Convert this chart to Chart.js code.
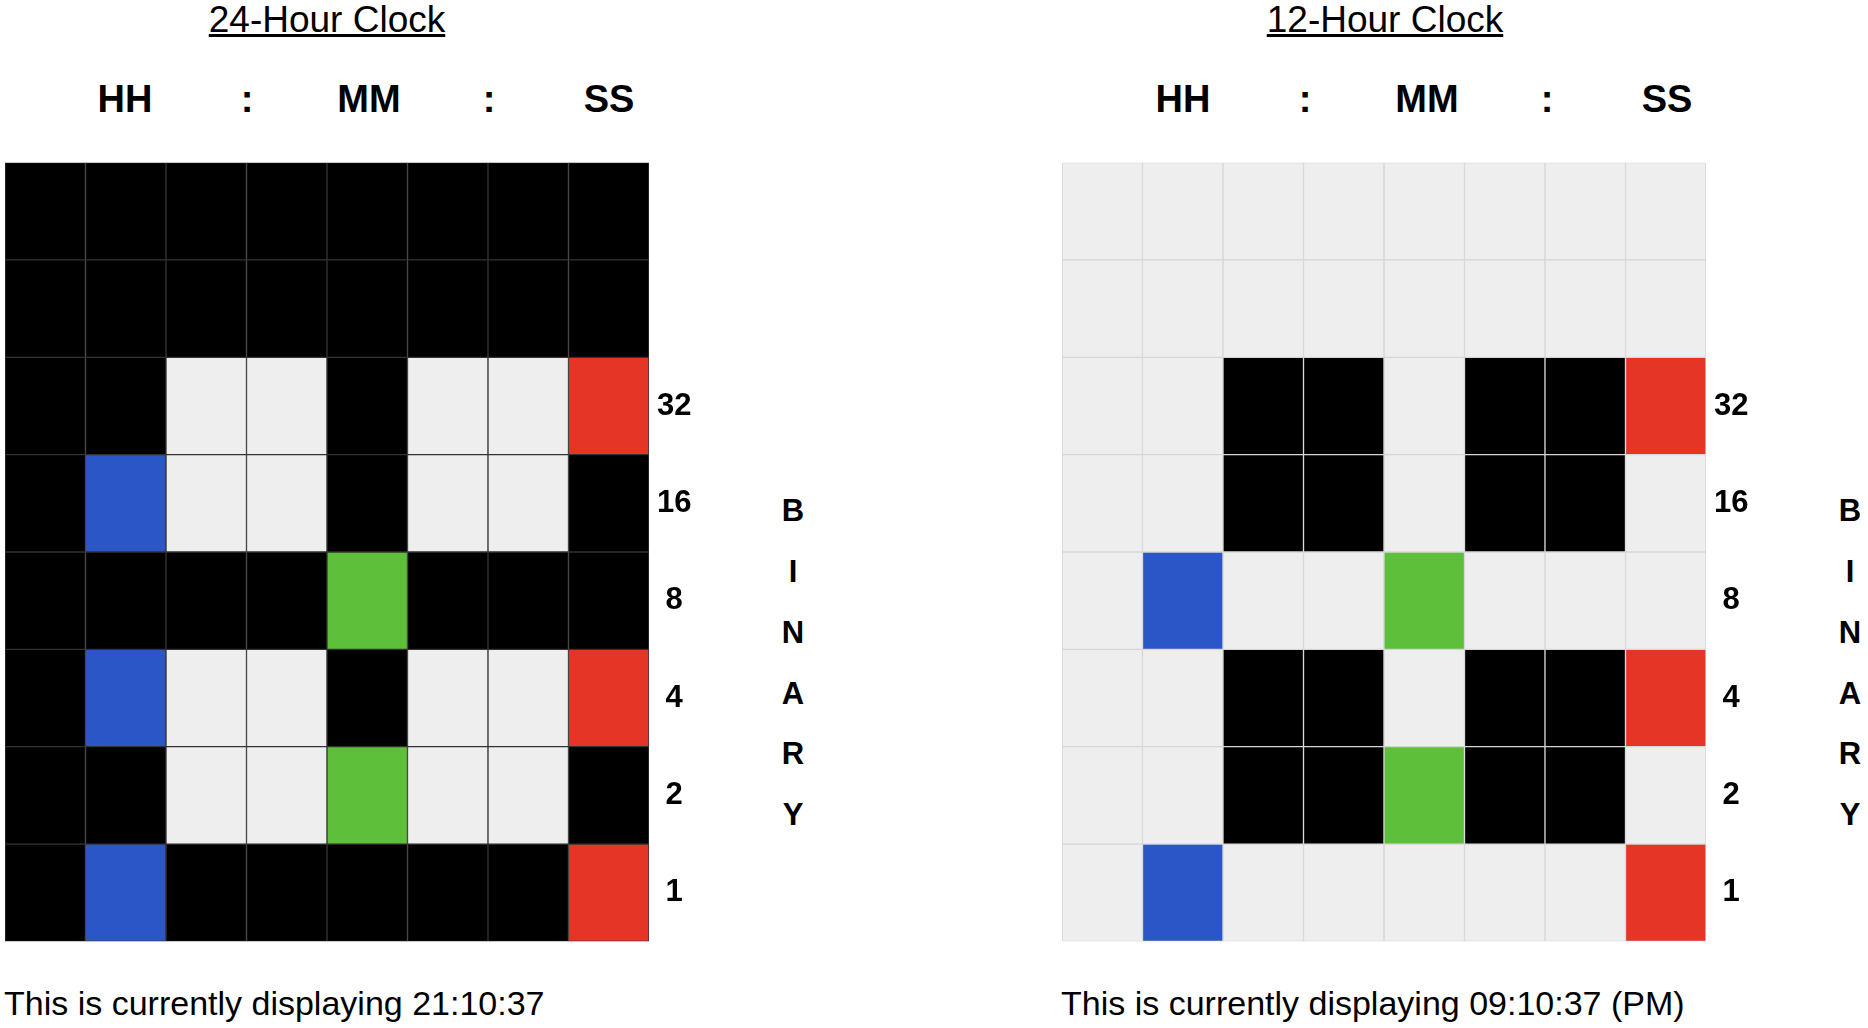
<!DOCTYPE html>
<html>
<head>
<meta charset="utf-8">
<script src="https://cdn.jsdelivr.net/npm/chart.js@4"></script>
<style>
  body { margin:0; background:#fff; font-family:"Liberation Sans", Arial, sans-serif; }
  .abs { position:absolute; white-space:nowrap; }
  .title { font-size:37px; text-decoration:underline; transform:translate(-50%,-50%); }
  .hdr { font-size:38px; font-weight:bold; transform:translate(-50%,-50%); }
  .bin { font-size:31px; font-weight:bold; transform:translate(-50%,-50%); }
  .cap { font-size:34px; transform:translateY(-50%); }
  .box { position:absolute; top:144px; width:732px; height:816px; }
</style>
</head>
<body>
<div id="texts"></div>
<div class="box" style="left:5px"><canvas id="left"></canvas></div>
<div class="box" style="left:1062px"><canvas id="right"></canvas></div>
<script>
// K black, W off, R seconds, B hours, G minutes. rows listed top to bottom
var grid24 = [
  "KKKKKKKK",
  "KKKKKKKK",
  "KKWWKWWR",
  "KBWWKWWK",
  "KKKKGKKK",
  "KBWWKWWR",
  "KKWWGWWK",
  "KBKKKKKR"
];
var grid12 = [
  "WWWWWWWW",
  "WWWWWWWW",
  "WWKKWKKR",
  "WWKKWKKW",
  "WBWWGWWW",
  "WWKKWKKR",
  "WWKKGKKW",
  "WBWWWWWR"
];
var rowLabels = ["", "", "32", "16", "8", "4", "2", "1"];
var headers = ["HH", ":", "MM", ":", "SS"];
var binary = ["B", "I", "N", "A", "R", "Y"];
var colours = { K:"#000000", W:"#eeeeee", R:"#e53527", B:"#2b56c7", G:"#5dbf3a" };

function makeClock(id, grid, lineColour) {
  var datasets = [];
  // bottom row first so the stack builds upward
  for (var r = grid.length - 1; r >= 0; r--) {
    datasets.push({
      data: grid[r].split("").map(function() { return 1 }),
      backgroundColor: grid[r].split("").map(function(c) { return colours[c] }),
      borderColor: lineColour,
      borderWidth: 1,
      borderSkipped: false,
      barPercentage: 1,
      categoryPercentage: 1
    });
  }
  new Chart(document.getElementById(id), {
    type: 'bar',
    data: { labels: ["1","2","3","4","5","6","7","8"], datasets: datasets },
    options: {
      responsive: true, maintainAspectRatio: false, animation: false,
      layout: { padding: 0 },
      plugins: { legend: { display:false }, tooltip: { enabled:false } },
      scales: {
        x: { stacked: true, display: false },
        y: {
          stacked: true, position: 'right', min: 0, max: 8,
          grid: { display:false }, border: { display:false },
          afterFit: function(s) { s.width = 88 },
          afterBuildTicks: function(s) {
            s.ticks = rowLabels.map(function(l, i) { return { value: 7.5 - i, label: l } })
          },
          ticks: {
            crossAlign: 'center', padding: 0, color: '#000',
            font: { family: "Liberation Sans", size: 31, weight: 'bold' },
            callback: function(v, i) { return rowLabels[i] }
          }
        }
      }
    }
  });
}
makeClock("left", grid24, "#333333");
makeClock("right", grid12, "#d6d6d6");

var html = "";
function put(cls, x, y, t) { html += '<div class="abs ' + cls + '" style="left:' + x + 'px;top:' + y + 'px">' + t + '</div>' }
put("title", 327, 20, "24-Hour Clock");
put("title", 1385, 20, "12-Hour Clock");
var hx = [125, 247, 369, 489, 609];
headers.forEach(function(h, i) { put("hdr", hx[i], 99, h); put("hdr", hx[i] + 1058, 99, h) });
var by = [511, 572, 633, 694, 754, 815];
binary.forEach(function(b, i) { put("bin", 793, by[i], b); put("bin", 1850, by[i], b) });
put("cap", 4, 1003, "This is currently displaying 21:10:37");
put("cap", 1061, 1003, "This is currently displaying 09:10:37 (PM)");
document.getElementById("texts").innerHTML = html;
</script>
</body>
</html>
